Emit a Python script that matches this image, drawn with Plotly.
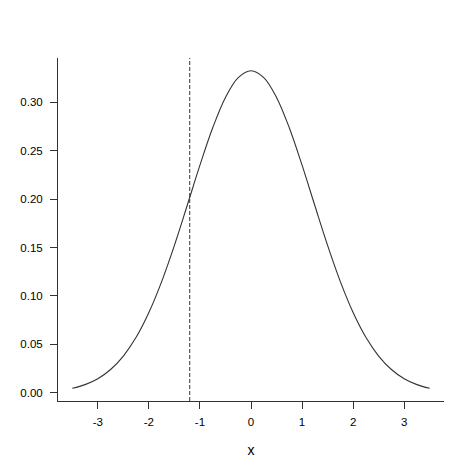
import plotly.graph_objects as go

x_vals = [-3.5, -3.25, -3.0, -2.75, -2.5, -2.25, -2.0, -1.75, -1.5, -1.25, -1.0, -0.75, -0.5, -0.25,
          0.0, 0.25, 0.5, 0.75, 1.0, 1.25, 1.5, 1.75, 2.0, 2.25, 2.5, 2.75, 3.0, 3.25, 3.5]
density = [0.0047, 0.0085, 0.0146, 0.0241, 0.0380, 0.0573, 0.0829, 0.1148, 0.1522, 0.1933, 0.2349,
           0.2735, 0.3048, 0.3253, 0.3324, 0.3253, 0.3048, 0.2735, 0.2349, 0.1933, 0.1522, 0.1148,
           0.0829, 0.0573, 0.0380, 0.0241, 0.0146, 0.0085, 0.0047]
cutoff = -1.2
x_ticks = [-3, -2, -1, 0, 1, 2, 3]
x_tick_labels = ["-3", "-2", "-1", "0", "1", "2", "3"]
y_ticks = [0.0, 0.05, 0.10, 0.15, 0.20, 0.25, 0.30]

fig = go.Figure()
fig.add_trace(go.Scatter(x=x_vals, y=density, mode="lines",
                         line=dict(color="#333333", width=1.1, shape="spline"),
                         showlegend=False, hoverinfo="skip"))
fig.add_vline(x=cutoff, line=dict(color="#333333", width=1, dash="4px,2px"))

font = dict(family="Liberation Sans, Arial, sans-serif", size=11.5, color="black")
fig.update_layout(
    width=474, height=474,
    margin=dict(l=50, r=38, t=50, b=81),
    paper_bgcolor="white", plot_bgcolor="white",
    font=font,
    xaxis=dict(range=[-3.78, 3.78], tickvals=x_ticks, ticktext=x_tick_labels, ticks="outside",
               ticklen=7, tickcolor="#333333", showline=True, linecolor="#333333", linewidth=1,
               showgrid=False, zeroline=False, ticklabelstandoff=3,
               title=dict(text="x", standoff=18)),
    yaxis=dict(range=[-0.0084, 0.3455], tickvals=y_ticks, tickformat=".2f", ticks="outside",
               ticklen=7, tickcolor="#333333", showline=True, linecolor="#333333", linewidth=1,
               showgrid=False, zeroline=False, ticklabelstandoff=5),
)
fig.write_html("out.html")
